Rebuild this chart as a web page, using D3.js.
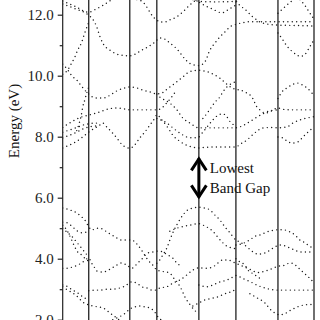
<!DOCTYPE html>
<html>
<head>
<meta charset="utf-8">
<script src="https://cdn.jsdelivr.net/npm/d3@7"></script>
<style>
  html, body { margin: 0; padding: 0; background: #fff; }
  svg { display: block; }
  .tick text { font-family: "Liberation Serif", "DejaVu Serif", serif; font-size: 15px; fill: #222; }
  .axis path, .axis line { stroke: #222; stroke-width: 1.2; }
  .band { fill: none; stroke: #1a1a1a; stroke-width: 1.45; stroke-linecap: round; stroke-dasharray: 0 4.4; }
  .sym { stroke: #222; stroke-width: 1.3; }
  .lbl { font-family: "Liberation Serif", "DejaVu Serif", serif; font-size: 15px; fill: #111; }
</style>
</head>
<body>
<svg id="chart" width="320" height="320"></svg>
<script>
// k-path distance of the high-symmetry points
const kSym = [0, 0.26, 0.67, 0.94, 1.36, 1.73, 2.15, 2.51];

const majorTicks = [2, 4, 6, 8, 10, 12];
const minorTicks = [3, 5, 7, 9, 11];

// bands: [k, energy (eV)]
const conduction = [
  [[0,12.45],[0.12,12.28],[0.26,12.08],[0.34,12.2],[0.40,12.3],[0.47,12.45],[0.53,12.6]],
  [[0,12.35],[0.12,12.2],[0.26,11.98],[0.30,11.85],[0.34,11.6],[0.37,11.3],[0.40,11.07],[0.47,10.84],[0.52,10.74],[0.57,10.68],[0.67,10.65],[0.72,10.7],[0.79,10.84],[0.85,10.94],[0.92,11.1],[0.97,11.24],[1.02,11.2],[1.07,11.07],[1.12,10.94],[1.15,10.84],[1.22,10.55],[1.27,10.4],[1.36,10.33],[1.42,10.45],[1.47,10.84],[1.52,11.07],[1.57,11.27],[1.62,11.43],[1.67,11.6],[1.73,11.68],[1.80,11.74],[1.87,11.77],[2.15,11.77],[2.51,11.77]],
  [[1.33,12.48],[1.42,12.3],[1.50,12.18],[1.59,12.06],[1.67,12.2],[1.73,12.32]],
  [[1.73,12.42],[1.79,12.25],[1.84,12.12],[1.89,11.95],[1.94,11.83],[1.99,11.73],[2.15,11.66],[2.27,11.65],[2.51,11.63]],
  [[1.30,12.5],[1.36,12.44],[1.52,12.42],[1.73,12.44],[1.77,12.5]],
  [[2.37,12.5],[2.42,12.3],[2.47,12.05],[2.51,11.85]],
  [[2.15,12.05],[2.20,12.2],[2.27,12.4],[2.31,12.5]],
  [[0.74,12.5],[0.80,12.42],[0.84,12.25],[0.87,12.09],[0.90,11.94],[0.94,11.83],[0.97,11.76],[1.02,11.76],[1.07,11.83],[1.14,11.93],[1.20,12.09],[1.27,12.32],[1.32,12.45]],
  [[2.15,11.4],[2.20,11.17],[2.24,10.97],[2.29,10.8],[2.34,10.68],[2.37,10.63],[2.42,10.7],[2.46,10.9],[2.49,11.07],[2.51,11.17]],
  [[0,10.05],[0.05,10.19],[0.09,10.42],[0.12,10.6],[0.15,10.84],[0.19,11.1],[0.22,11.4],[0.26,11.75]],
  [[0,10.38],[0.05,10.19],[0.09,10.0],[0.14,9.86],[0.19,9.65],[0.22,9.53],[0.26,9.4],[0.30,9.3],[0.34,9.27],[0.40,9.27],[0.44,9.3],[0.49,9.4],[0.54,9.5],[0.60,9.58],[0.67,9.63],[0.74,9.6],[0.80,9.53],[0.87,9.47],[0.94,9.4],[1.00,9.45],[1.05,9.58],[1.10,9.7],[1.15,9.83],[1.20,9.96],[1.25,10.1],[1.30,10.16],[1.36,10.18],[1.42,10.15],[1.47,10.1],[1.52,10.02],[1.57,9.92],[1.64,9.72],[1.69,9.6],[1.73,9.55],[1.77,9.53],[1.84,9.43],[1.89,9.3],[1.94,8.97],[1.97,8.88],[2.02,8.78],[2.07,8.81],[2.10,8.88],[2.15,8.94],[2.20,8.9],[2.27,8.88],[2.37,8.88],[2.51,8.88]],
  [[2.15,9.25],[2.19,9.47],[2.24,9.6],[2.29,9.7],[2.34,9.76],[2.39,9.7],[2.44,9.6],[2.49,9.43],[2.51,9.35]],
  [[0.94,9.4],[0.97,9.3],[1.02,9.2],[1.07,9.1],[1.14,8.88],[1.20,8.61],[1.27,8.45],[1.36,8.29],[1.47,8.29],[1.62,8.29],[1.73,8.29],[1.82,8.4],[1.92,8.6],[2.0,8.75],[2.07,8.85],[2.15,8.88]],
  [[0,8.3],[0.07,8.45],[0.14,8.58],[0.20,8.66],[0.26,8.71],[0.34,8.78],[0.40,8.85],[0.47,8.92],[0.54,8.94],[0.60,8.92],[0.67,8.88],[0.77,8.88],[0.87,8.88],[0.94,8.88],[1.00,8.97],[1.05,9.15],[1.10,9.35],[1.13,9.5]],
  [[0,7.96],[0.07,8.05],[0.14,8.15],[0.20,8.25],[0.26,8.32],[0.30,8.34],[0.37,8.38],[0.40,8.45],[0.44,8.32],[0.49,8.15],[0.54,7.96],[0.59,7.75],[0.64,7.64],[0.67,7.62],[0.72,7.73],[0.77,7.96],[0.82,8.15],[0.87,8.38],[0.92,8.61],[0.94,8.72],[0.99,8.55],[1.05,8.3],[1.10,8.05],[1.17,7.85],[1.24,7.72],[1.30,7.66],[1.36,7.63],[1.42,7.65],[1.52,7.66],[1.62,7.66],[1.73,7.66],[1.77,7.75],[1.84,7.89],[1.89,8.04],[1.94,8.18],[1.99,8.28],[2.07,8.3],[2.15,8.29],[2.24,8.32],[2.30,8.45],[2.37,8.55],[2.44,8.61],[2.51,8.66]],
  [[0.94,8.6],[1.04,8.45],[1.10,8.29],[1.17,8.12],[1.24,7.99],[1.30,7.96],[1.36,7.99],[1.40,8.15],[1.45,8.35],[1.50,8.55],[1.55,8.7],[1.60,8.75],[1.64,8.65],[1.67,8.5],[1.73,8.35]],
  [[1.40,8.6],[1.45,8.8],[1.50,9.04],[1.54,9.2],[1.57,9.3],[1.60,9.47],[1.64,9.63],[1.69,9.75],[1.73,9.8]],
  [[0,8.15],[0.07,8.22],[0.14,8.3],[0.20,8.38],[0.26,8.42],[0.32,8.45],[0.37,8.42]],
  [[0,7.63],[0.07,7.73],[0.14,7.85],[0.20,7.99],[0.26,8.15],[0.32,8.28],[0.37,8.36]],
  [[0.14,8.2],[0.17,8.5],[0.19,8.78],[0.20,8.97],[0.22,9.2],[0.24,9.43],[0.26,9.63]],
  [[2.15,7.99],[2.20,7.96],[2.25,7.83],[2.30,7.79],[2.35,7.83],[2.40,7.99],[2.45,8.15],[2.51,8.32]]
];

const valence = [
  [[0,5.66],[0.07,5.6],[0.14,5.5],[0.19,5.37],[0.22,5.27],[0.26,5.05],[0.29,4.94],[0.34,5.0],[0.39,4.98],[0.44,4.88],[0.49,4.78],[0.54,4.68],[0.59,4.61],[0.64,4.61],[0.69,4.62],[0.72,4.55],[0.75,4.45],[0.80,4.22],[0.85,3.96],[0.90,3.79],[0.94,3.63],[1.00,3.58],[1.07,3.53],[1.10,3.4],[1.15,3.2],[1.19,2.97],[1.22,2.75],[1.27,2.5],[1.32,2.3],[1.36,2.2]],
  [[0,5.2],[0.05,5.17],[0.10,5.04],[0.15,4.9],[0.20,4.85],[0.26,4.9]],
  [[0,5.1],[0.04,4.94],[0.09,4.61],[0.12,4.39],[0.15,4.22],[0.19,4.12],[0.24,3.96],[0.26,3.92]],
  [[0,5.0],[0.05,4.85],[0.10,4.7],[0.15,4.5],[0.20,4.3],[0.26,4.05]],
  [[0,3.69],[0.05,3.69],[0.10,3.73],[0.15,3.79],[0.20,3.89],[0.26,4.02],[0.29,3.85],[0.32,3.7],[0.34,3.6],[0.40,3.56],[0.47,3.65],[0.54,3.79],[0.59,3.86],[0.64,3.79],[0.69,3.69],[0.75,3.86],[0.80,4.02],[0.85,4.19],[0.90,4.22],[0.95,4.25],[1.00,4.22],[1.05,4.12],[1.10,4.02],[1.14,3.86],[1.19,3.75]],
  [[0.94,3.85],[0.97,3.96],[1.00,4.12],[1.04,4.35],[1.07,4.61],[1.10,4.85],[1.15,5.17],[1.20,5.43],[1.25,5.6],[1.30,5.66],[1.36,5.69],[1.42,5.66],[1.47,5.6],[1.52,5.43],[1.57,5.27],[1.62,5.04],[1.67,4.85],[1.73,4.61],[1.77,4.55],[1.84,4.39],[1.89,4.25],[1.95,4.15],[2.02,4.19],[2.07,4.28],[2.12,4.39],[2.17,4.45],[2.22,4.42],[2.27,4.35],[2.32,4.28],[2.37,4.22],[2.44,4.22],[2.51,4.22]],
  [[1.73,4.45],[1.80,4.5],[1.87,4.62],[1.93,4.75],[1.97,4.78],[2.02,4.85],[2.07,4.91],[2.12,4.94],[2.17,4.95],[2.22,4.94],[2.27,4.88],[2.32,4.78],[2.37,4.61],[2.42,4.52],[2.47,4.4],[2.51,4.35]],
  [[1.07,4.9],[1.14,5.0],[1.20,5.05],[1.27,5.1],[1.36,5.15],[1.42,5.07],[1.50,4.9],[1.55,4.7],[1.60,4.52],[1.65,4.39],[1.70,4.35],[1.73,4.32]],
  [[0.26,2.95],[0.32,2.97],[0.37,2.97],[0.44,3.0],[0.50,3.0],[0.57,3.04],[0.62,3.1],[0.69,3.24],[0.74,3.2],[0.79,3.08],[0.84,3.04],[0.89,2.97],[0.94,2.97],[0.97,3.04],[1.04,3.08],[1.10,3.2],[1.17,3.3],[1.24,3.47],[1.30,3.63],[1.36,3.7],[1.44,3.69],[1.50,3.73],[1.55,3.86],[1.60,3.96],[1.65,3.96],[1.70,3.89],[1.73,3.85],[1.80,3.75],[1.87,3.65],[1.95,3.55],[2.03,3.6],[2.15,3.75],[2.22,3.79],[2.27,3.86],[2.32,3.8],[2.37,3.65],[2.42,3.5],[2.47,3.35],[2.51,3.2]],
  [[1.36,3.14],[1.44,3.08],[1.50,3.14],[1.57,3.24],[1.64,3.3],[1.70,3.4],[1.73,3.45],[1.80,3.35],[1.87,3.25],[1.95,3.12],[2.03,3.03],[2.15,2.97],[2.27,2.97],[2.37,2.97],[2.51,2.97]],
  [[0,3.14],[0.05,3.08],[0.10,2.97],[0.15,2.88],[0.20,2.75],[0.25,2.65],[0.26,2.62]],
  [[0,3.08],[0.05,2.97],[0.10,2.88],[0.15,2.75],[0.20,2.58],[0.25,2.5],[0.30,2.45],[0.35,2.42],[0.40,2.39],[0.45,2.28],[0.50,2.15],[0.54,2.06],[0.58,1.95]],
  [[0.50,2.0],[0.57,2.1],[0.62,2.2],[0.67,2.35],[0.72,2.42],[0.77,2.45],[0.82,2.42],[0.87,2.39],[0.92,2.25],[0.95,2.1],[1.0,1.95]],
  [[1.30,2.45],[1.36,2.55],[1.42,2.65],[1.49,2.7],[1.55,2.75],[1.62,2.85],[1.67,2.9],[1.73,3.0]],
  [[1.87,2.85],[1.95,2.7],[2.02,2.55],[2.07,2.35],[2.12,2.22],[2.17,2.16],[2.22,2.2],[2.27,2.3],[2.37,2.45],[2.47,2.5],[2.51,2.5]],
  [[1.73,4.0],[1.77,3.89],[1.82,3.79],[1.85,3.63],[1.89,3.53],[1.95,3.4],[2.0,3.3]]
];

// lowest gap arrow (eV) and its label
const gapArrow = { k: 1.36, from: 5.98, to: 7.32 };
const gapLabel = ["Lowest", "Band Gap"];
const gapLabelE = [6.8, 6.14];

const svg = d3.select("#chart");
const width = 320, height = 320;
const left = 62.7, right = 314;

const x = d3.scaleLinear().domain([0, kSym[kSym.length - 1]]).range([left, right]);
const y = d3.scaleLinear().domain([2, 12]).range([319.7, 14.7]);

svg.append("defs").append("clipPath").attr("id", "plot")
  .append("rect").attr("x", left).attr("y", 0).attr("width", right - left).attr("height", height);

// symmetry lines
svg.append("g").selectAll("line").data(kSym.slice(1)).join("line")
  .attr("class", "sym")
  .attr("x1", d => x(d)).attr("x2", d => x(d))
  .attr("y1", 0).attr("y2", height);

// bands
const line = d3.line().x(d => x(d[0])).y(d => y(d[1])).curve(d3.curveMonotoneX);
const bandG = svg.append("g").attr("clip-path", "url(#plot)");
bandG.selectAll("path").data(conduction.concat(valence)).join("path")
  .attr("class", "band")
  .attr("d", line);

// y axis
svg.append("g").attr("class", "axis").attr("transform", `translate(${left},0)`)
  .call(d3.axisLeft(y).tickValues(majorTicks).tickFormat(d3.format(".1f")).tickSize(5).tickPadding(4).tickSizeOuter(0))
  .call(g => g.select(".domain").attr("d", `M0,0V${height}`));
svg.append("g").attr("class", "axis").attr("transform", `translate(${left},0)`)
  .call(d3.axisLeft(y).tickValues(minorTicks).tickFormat("").tickSize(3).tickSizeOuter(0))
  .call(g => g.select(".domain").remove());

svg.append("text").attr("class", "lbl")
  .attr("transform", "translate(19,121) rotate(-90)")
  .attr("text-anchor", "middle")
  .text("Energy (eV)");

// arrow
const ax = x(gapArrow.k);
const yTop = y(gapArrow.to), yBot = y(gapArrow.from);
const arrow = svg.append("g").attr("fill", "none").attr("stroke", "#000").attr("stroke-width", 3)
  .attr("stroke-linejoin", "miter");
arrow.append("line").attr("x1", ax).attr("x2", ax).attr("y1", yTop + 1).attr("y2", yBot - 1);
arrow.append("path").attr("d", `M${ax - 7.5},${yTop + 13}L${ax},${yTop + 1.5}L${ax + 7.5},${yTop + 13}`);
arrow.append("path").attr("d", `M${ax - 7.5},${yBot - 13}L${ax},${yBot - 1.5}L${ax + 7.5},${yBot - 13}`);

svg.append("g").selectAll("text").data(gapLabel).join("text")
  .attr("class", "lbl")
  .attr("x", ax + 11)
  .attr("y", (d, i) => y(gapLabelE[i]))
  .text(d => d);
</script>
</body>
</html>
